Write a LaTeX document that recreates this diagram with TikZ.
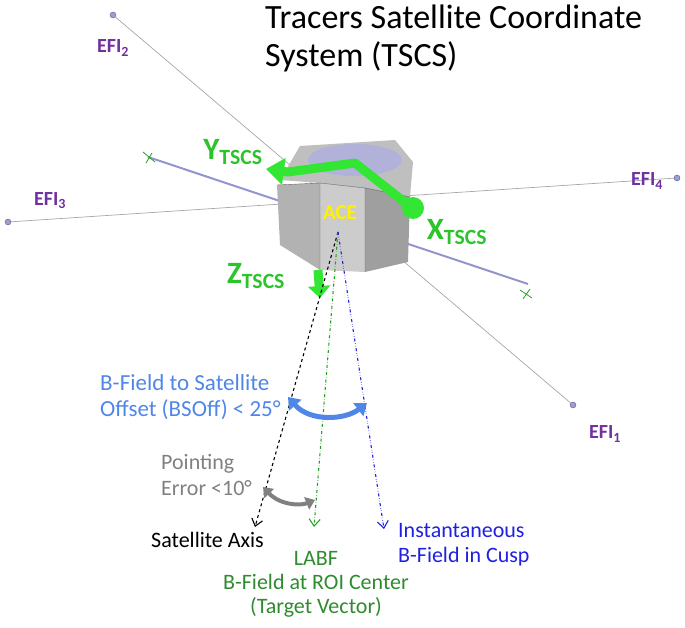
\documentclass[tikz,border=0pt]{standalone}
\usepackage{fontspec}
\setmainfont{Carlito}
\usetikzlibrary{arrows.meta}
\definecolor{efi}{HTML}{7030A0}
\definecolor{grn}{HTML}{33E633}
\definecolor{bfb}{HTML}{4F86E8}
\definecolor{ibl}{HTML}{2020E0}
\definecolor{lgrn}{HTML}{2E8B2E}
\tikzset{
  lbl/.style={inner sep=0pt, anchor=west},
  efil/.style={text=efi, font=\fontsize{20}{20}\selectfont\bfseries, inner sep=0pt},
  axl/.style={text=grn!85!black, font=\fontsize{31}{31}\selectfont\bfseries, inner sep=0pt},
  wire/.style={draw=gray!70, line width=0.7pt},
  tip/.style={circle, fill=blue!25!gray!60, draw=blue!30!gray, inner sep=0pt, minimum size=6pt},
}
\begin{document}
\begin{tikzpicture}[x=1pt,y=-1pt]
\useasboundingbox (0,0) rectangle (685,628);
% antenna wires
\node[tip] (e2) at (113,15) {};
\node[tip] (e1) at (573,405) {};
\node[tip] (e3) at (8,222) {};
\node[tip] (e4) at (677,178) {};
\draw[wire] (e2) -- (e1);
\draw[wire] (e3) -- (e4);
% blue boom
\coordinate (b1) at (148,157);
\coordinate (b2) at (528,284);
\draw[blue!40!gray!60, line width=2pt] (b1) -- (b2);
\draw[grn!70!black, line width=0.8pt] (143,152) -- (155,162) (152,153) -- (146,163);
\draw[grn!70!black, line width=0.8pt] (520,290) -- (532,298) (530,289) -- (523,299);
% satellite body
\fill[gray!50] (280,180) -- (300,146) -- (395,140) -- (413,162) -- (410,197) -- (365,188) -- (320,183) -- cycle;
\fill[blue!35!gray!45] (355,160) ellipse [x radius=47, y radius=16];
\fill[gray!60] (277,185) -- (320,183) -- (320,270) -- (280,245) -- cycle;
\fill[gray!40] (320,183) -- (365,188) -- (365,272) -- (320,270) -- cycle;
\fill[gray!75] (365,188) -- (410,197) -- (408,262) -- (365,272) -- cycle;
\draw[gray!80!black, line width=0.4pt] (277,185) -- (320,183) -- (365,188) -- (410,197) (320,183) -- (320,270) (365,188) -- (365,272);
% green axes
\draw[grn, line width=9pt, line join=round, -{Triangle[length=18pt,width=26pt]}] (412,208) -- (355,163) -- (288,172) -- (266,169);
\fill[grn] (413,208) circle (11pt);
\draw[grn, line width=9pt, -{Triangle[length=12pt,width=22pt]}] (318,270) -- (320,298);
% pointing lines
\coordinate (o) at (338,232);
\coordinate (sa) at (255,527);
\coordinate (lb) at (314,527);
\coordinate (ib) at (384,529);
\draw[black, dashed, line width=1.1pt, -{Straight Barb[length=7pt,width=11pt]}] (o) -- (sa);
\draw[lgrn!80!green, dash dot, line width=1.1pt, -{Straight Barb[length=7pt,width=11pt]}] (o) -- (lb);
\draw[ibl, dash dot dot, line width=1.1pt, -{Straight Barb[length=7pt,width=11pt]}] (o) -- (ib);
% angle arcs
\coordinate (a1) at (288,397);
\coordinate (a2) at (367,403);
\draw[bfb, line width=5pt, {Triangle[length=11pt,width=16pt]}-{Triangle[length=11pt,width=16pt]}] (a1) .. controls (310,422) and (345,420) .. (a2);
\coordinate (p1) at (263,487);
\coordinate (p2) at (315,500);
\draw[gray, line width=4pt, {Triangle[length=9pt,width=13pt]}-{Triangle[length=9pt,width=13pt]}] (p1) .. controls (280,505) and (300,506) .. (p2);
% texts
\node[lbl, align=left, font=\fontsize{34}{38}\selectfont, anchor=north west] (title) at (265,5) {Tracers Satellite Coordinate\\System (TSCS)};
\node[efil] (t2) at (113,48) {EFI$_{\mathbf 2}$};
\node[efil] (t3) at (50,201) {EFI$_{\mathbf 3}$};
\node[efil] (t4) at (647,181) {EFI$_{\mathbf 4}$};
\node[efil] (t1) at (605,434) {EFI$_{\mathbf 1}$};
\node[axl] (ty) at (233,152) {Y\textsubscript{TSCS}};
\node[axl] (tx) at (457,232) {X\textsubscript{TSCS}};
\node[axl] (tz) at (256,276) {Z\textsubscript{TSCS}};
\node[text=yellow, font=\fontsize{21}{21}\selectfont\bfseries] (ace) at (340,213) {ACE};
\node[lbl, align=left, text=bfb, font=\fontsize{23}{26}\selectfont] (bf) at (100,397) {B-Field to Satellite\\Offset (BSOff) < 25°};
\node[lbl, align=left, text=gray, font=\fontsize{22}{26}\selectfont] (pe) at (161,475) {Pointing\\Error <10°};
\node[lbl, font=\fontsize{22}{24}\selectfont] (sat) at (151,540) {Satellite Axis};
\node[align=center, text=lgrn, font=\fontsize{22}{24}\selectfont, inner sep=0pt] (labf) at (316,584) {LABF\\B-Field at ROI Center\\(Target Vector)};
\node[lbl, align=left, text=ibl, font=\fontsize{22}{25}\selectfont] (inst) at (398,545) {Instantaneous\\B-Field in Cusp};
\end{tikzpicture}
\end{document}
